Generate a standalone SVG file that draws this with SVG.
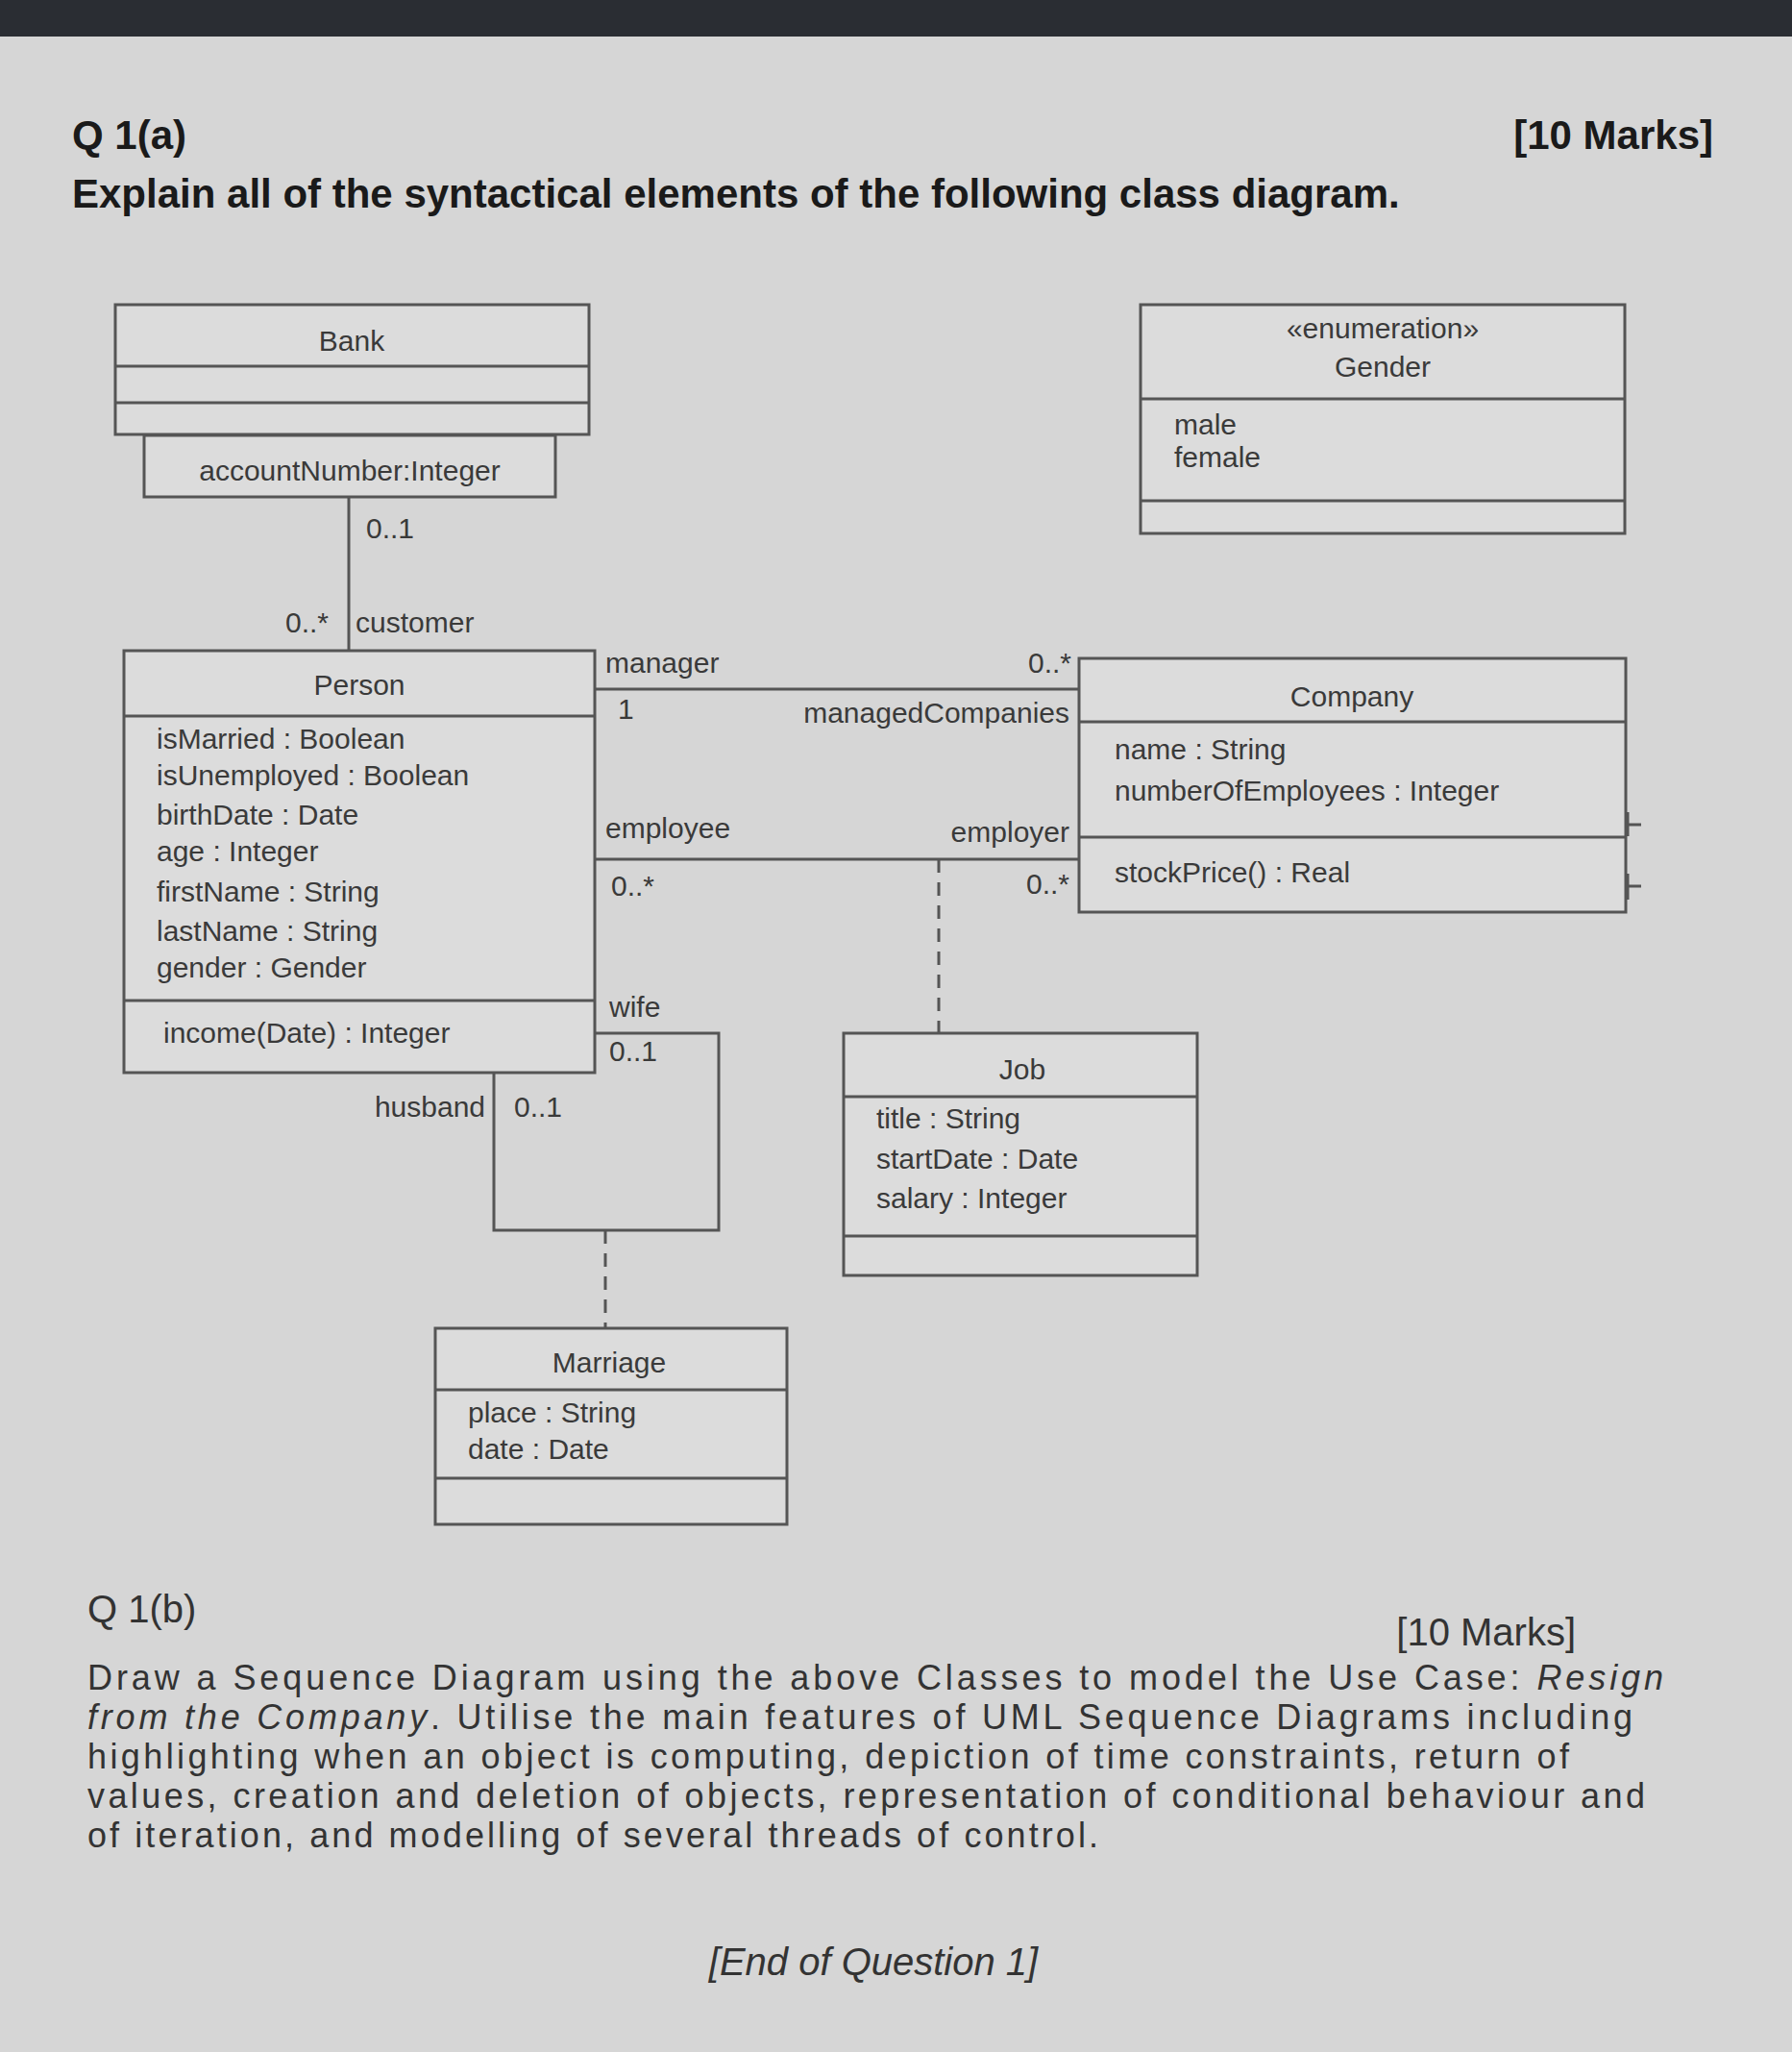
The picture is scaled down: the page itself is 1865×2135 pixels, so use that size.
<svg xmlns="http://www.w3.org/2000/svg" width="1865" height="2135" viewBox="0 0 1865 2135">
<style>
.t{font-family:"Liberation Sans",Arial,sans-serif;fill:#1a1a1a}
.h{font-size:42px;font-weight:bold}
.p{font-size:40px;fill:#333}
.q{font-size:36px;fill:#333}
.d{font-size:30px;fill:#3a3a3a}
.box{fill:#dcdcdc;stroke:#555;stroke-width:3}
.ln{stroke:#555;stroke-width:3;fill:none}
.dash{stroke:#555;stroke-width:3;fill:none;stroke-dasharray:14 10}
</style>
<rect width="1865" height="2135" fill="#d6d6d6"/>
<rect width="1865" height="38" fill="#2a2d33"/>
<text class="t h" x="75" y="155">Q 1(a)</text>
<text class="t h" x="1783" y="155" text-anchor="end">[10 Marks]</text>
<text class="t h" x="75" y="216">Explain all of the syntactical elements of the following class diagram.</text>

<g id="connectors">
<line class="ln" x1="363" y1="517" x2="363" y2="677"/>
<line class="ln" x1="619" y1="717" x2="1123" y2="717"/>
<line class="ln" x1="619" y1="894" x2="1123" y2="894"/>
<path class="ln" d="M619 1075 H748 V1280 H514 V1116"/>
<line class="dash" x1="977" y1="894" x2="977" y2="1075"/>
<line class="dash" x1="630" y1="1280" x2="630" y2="1382"/>
<text class="t d" x="381" y="560">0..1</text>
<text class="t d" x="297" y="658">0..*</text>
<text class="t d" x="370" y="658">customer</text>
<text class="t d" x="630" y="700">manager</text>
<text class="t d" x="1115" y="700" text-anchor="end">0..*</text>
<text class="t d" x="643" y="748">1</text>
<text class="t d" x="1113" y="752" text-anchor="end">managedCompanies</text>
<text class="t d" x="630" y="872">employee</text>
<text class="t d" x="1113" y="876" text-anchor="end">employer</text>
<text class="t d" x="636" y="932">0..*</text>
<text class="t d" x="1113" y="930" text-anchor="end">0..*</text>
<text class="t d" x="634" y="1058">wife</text>
<text class="t d" x="634" y="1104">0..1</text>
<text class="t d" x="505" y="1162" text-anchor="end">husband</text>
<text class="t d" x="535" y="1162">0..1</text>
<line class="ln" x1="1680" y1="858" x2="1708" y2="858"/>
<line class="ln" x1="1694" y1="845" x2="1694" y2="870"/>
<line class="ln" x1="1680" y1="922" x2="1708" y2="922"/>
<line class="ln" x1="1694" y1="909" x2="1694" y2="936"/>
</g>

<g id="bank">
<rect class="box" x="120" y="317" width="493" height="135"/>
<line class="ln" x1="120" y1="381" x2="613" y2="381"/>
<line class="ln" x1="120" y1="419" x2="613" y2="419"/>
<text class="t d" x="366" y="365" text-anchor="middle">Bank</text>
<rect class="box" x="150" y="453" width="428" height="64"/>
<text class="t d" x="364" y="500" text-anchor="middle">accountNumber:Integer</text>
</g>

<g id="gender">
<rect class="box" x="1187" y="317" width="504" height="238"/>
<line class="ln" x1="1187" y1="415" x2="1691" y2="415"/>
<line class="ln" x1="1187" y1="521" x2="1691" y2="521"/>
<text class="t d" x="1439" y="352" text-anchor="middle">«enumeration»</text>
<text class="t d" x="1439" y="392" text-anchor="middle">Gender</text>
<text class="t d" x="1222" y="452">male</text>
<text class="t d" x="1222" y="486">female</text>
</g>

<g id="person">
<rect class="box" x="129" y="677" width="490" height="439"/>
<line class="ln" x1="129" y1="745" x2="619" y2="745"/>
<line class="ln" x1="129" y1="1041" x2="619" y2="1041"/>
<text class="t d" x="374" y="723" text-anchor="middle">Person</text>
<text class="t d" x="163" y="779">isMarried : Boolean</text>
<text class="t d" x="163" y="817">isUnemployed : Boolean</text>
<text class="t d" x="163" y="858">birthDate : Date</text>
<text class="t d" x="163" y="896">age : Integer</text>
<text class="t d" x="163" y="938">firstName : String</text>
<text class="t d" x="163" y="979">lastName : String</text>
<text class="t d" x="163" y="1017">gender : Gender</text>
<text class="t d" x="170" y="1085">income(Date) : Integer</text>
</g>

<g id="company">
<rect class="box" x="1123" y="685" width="569" height="264"/>
<line class="ln" x1="1123" y1="751" x2="1692" y2="751"/>
<line class="ln" x1="1123" y1="871" x2="1692" y2="871"/>
<text class="t d" x="1407" y="735" text-anchor="middle">Company</text>
<text class="t d" x="1160" y="790">name : String</text>
<text class="t d" x="1160" y="833">numberOfEmployees : Integer</text>
<text class="t d" x="1160" y="918">stockPrice() : Real</text>
</g>

<g id="job">
<rect class="box" x="878" y="1075" width="368" height="252"/>
<line class="ln" x1="878" y1="1141" x2="1246" y2="1141"/>
<line class="ln" x1="878" y1="1286" x2="1246" y2="1286"/>
<text class="t d" x="1064" y="1123" text-anchor="middle">Job</text>
<text class="t d" x="912" y="1174">title : String</text>
<text class="t d" x="912" y="1216">startDate : Date</text>
<text class="t d" x="912" y="1257">salary : Integer</text>
</g>

<g id="marriage">
<rect class="box" x="453" y="1382" width="366" height="204"/>
<line class="ln" x1="453" y1="1446" x2="819" y2="1446"/>
<line class="ln" x1="453" y1="1538" x2="819" y2="1538"/>
<text class="t d" x="634" y="1428" text-anchor="middle">Marriage</text>
<text class="t d" x="487" y="1480">place : String</text>
<text class="t d" x="487" y="1518">date : Date</text>
</g>

<text class="t p" x="91" y="1688">Q 1(b)</text>
<text class="t p" x="1640" y="1712" text-anchor="end">[10 Marks]</text>
<text class="t q" x="91" y="1758" textLength="1640" lengthAdjust="spacing">Draw a Sequence Diagram using the above Classes to model the Use Case: <tspan font-style="italic">Resign</tspan></text>
<text class="t q" x="91" y="1799" textLength="1608" lengthAdjust="spacing"><tspan font-style="italic">from the Company</tspan>. Utilise the main features of UML Sequence Diagrams including</text>
<text class="t q" x="91" y="1840" textLength="1542" lengthAdjust="spacing">highlighting when an object is computing, depiction of time constraints, return of</text>
<text class="t q" x="91" y="1881" textLength="1621" lengthAdjust="spacing">values, creation and deletion of objects, representation of conditional behaviour and</text>
<text class="t q" x="91" y="1922" textLength="1052" lengthAdjust="spacing">of iteration, and modelling of several threads of control.</text>
<text class="t p" x="909" y="2055" text-anchor="middle" font-style="italic">[End of Question 1]</text>
</svg>
